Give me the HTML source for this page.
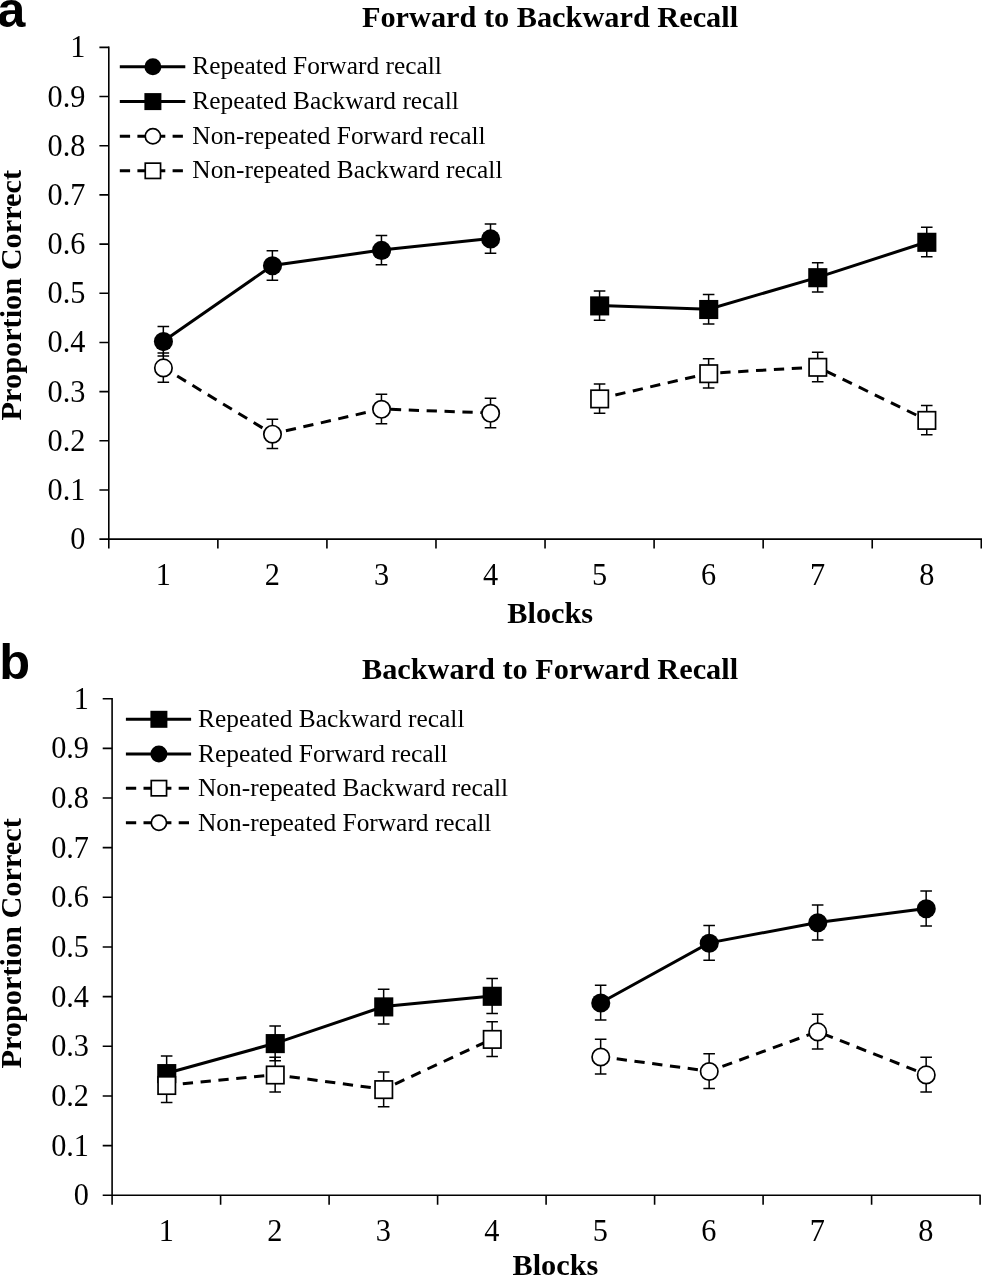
<!DOCTYPE html>
<html><head><meta charset="utf-8"><title>Recall figure</title>
<style>
html,body{margin:0;padding:0;background:#fff}
body{width:982px;height:1275px;overflow:hidden}
svg{display:block;font-family:"Liberation Serif",serif;fill:#000}
.pl{font-family:"Liberation Sans",sans-serif;font-weight:bold;font-size:50.5px}
</style></head><body>
<svg width="982" height="1275" viewBox="0 0 982 1275">
<rect width="982" height="1275" fill="#fff"/>
<text class="pl" x="-2.7" y="27">a</text>
<text class="pl" x="-0.8" y="678.5">b</text>
<g stroke="#000" stroke-width="1.6" fill="none" stroke-linecap="butt">
<path d="M108.8 46.6V548.55"/>
<path d="M99.4 539.15H982"/>
<path d="M99.4 489.97H108.8M99.4 440.8H108.8M99.4 391.62H108.8M99.4 342.45H108.8M99.4 293.27H108.8M99.4 244.1H108.8M99.4 194.92H108.8M99.4 145.75H108.8M99.4 96.57H108.8M99.4 47.4H108.8M217.86 539.15V548.55M326.92 539.15V548.55M435.98 539.15V548.55M545.04 539.15V548.55M654.1 539.15V548.55M763.16 539.15V548.55M872.22 539.15V548.55M981.28 539.15V548.55"/>
</g>
<g font-size="30.3" text-anchor="end">
<text transform="translate(85.4 549.1) scale(1 1.07)">0</text>
<text transform="translate(85.4 499.92) scale(1 1.07)">0.1</text>
<text transform="translate(85.4 450.75) scale(1 1.07)">0.2</text>
<text transform="translate(85.4 401.57) scale(1 1.07)">0.3</text>
<text transform="translate(85.4 352.4) scale(1 1.07)">0.4</text>
<text transform="translate(85.4 303.22) scale(1 1.07)">0.5</text>
<text transform="translate(85.4 254.05) scale(1 1.07)">0.6</text>
<text transform="translate(85.4 204.87) scale(1 1.07)">0.7</text>
<text transform="translate(85.4 155.7) scale(1 1.07)">0.8</text>
<text transform="translate(85.4 106.52) scale(1 1.07)">0.9</text>
<text transform="translate(85.4 57.35) scale(1 1.07)">1</text>
</g>
<g font-size="30.3" text-anchor="middle">
<text transform="translate(163.33 584.8) scale(1 1.07)">1</text>
<text transform="translate(272.39 584.8) scale(1 1.07)">2</text>
<text transform="translate(381.45 584.8) scale(1 1.07)">3</text>
<text transform="translate(490.51 584.8) scale(1 1.07)">4</text>
<text transform="translate(599.57 584.8) scale(1 1.07)">5</text>
<text transform="translate(708.63 584.8) scale(1 1.07)">6</text>
<text transform="translate(817.69 584.8) scale(1 1.07)">7</text>
<text transform="translate(926.75 584.8) scale(1 1.07)">8</text>
</g>
<g font-size="30.3" font-weight="bold" text-anchor="middle">
<text x="550" y="27.2">Forward to Backward Recall</text>
<text x="550.2" y="622.5">Blocks</text>
<text transform="translate(21.2 295.2) rotate(-90)">Proportion Correct</text>
</g>
<path d="M163.33 341.3L272.39 265.5L381.45 250.1L490.51 238.6" fill="none" stroke="#000" stroke-width="3.0"/>
<path d="M163.33 326.6V356M157.53 326.6H169.13M157.53 356H169.13M272.39 250.8V280.2M266.59 250.8H278.19M266.59 280.2H278.19M381.45 235.4V264.8M375.65 235.4H387.25M375.65 264.8H387.25M490.51 223.9V253.3M484.71 223.9H496.31M484.71 253.3H496.31" fill="none" stroke="#000" stroke-width="1.5"/>
<circle cx="163.43" cy="341.6" r="9.55" fill="#000"/>
<circle cx="272.49" cy="265.8" r="9.55" fill="#000"/>
<circle cx="381.55" cy="250.4" r="9.55" fill="#000"/>
<circle cx="490.61" cy="238.9" r="9.55" fill="#000"/>
<path d="M599.57 305.6L708.63 309.2L817.69 277.4L926.75 242" fill="none" stroke="#000" stroke-width="3.0"/>
<path d="M599.57 290.9V320.3M593.77 290.9H605.37M593.77 320.3H605.37M708.63 294.5V323.9M702.83 294.5H714.43M702.83 323.9H714.43M817.69 262.7V292.1M811.89 262.7H823.49M811.89 292.1H823.49M926.75 227.3V256.7M920.95 227.3H932.55M920.95 256.7H932.55" fill="none" stroke="#000" stroke-width="1.5"/>
<rect x="590.12" y="296.35" width="19.1" height="19.1" fill="#000"/>
<rect x="699.18" y="299.95" width="19.1" height="19.1" fill="#000"/>
<rect x="808.24" y="268.15" width="19.1" height="19.1" fill="#000"/>
<rect x="917.3" y="232.75" width="19.1" height="19.1" fill="#000"/>
<path d="M163.33 367.6L272.39 433.9L381.45 409L490.51 413" fill="none" stroke="#000" stroke-width="3.0" stroke-dasharray="10.3 7.6" stroke-dashoffset="1.7"/>
<path d="M163.33 352.9V382.3M157.53 352.9H169.13M157.53 382.3H169.13M272.39 419.2V448.6M266.59 419.2H278.19M266.59 448.6H278.19M381.45 394.3V423.7M375.65 394.3H387.25M375.65 423.7H387.25M490.51 398.3V427.7M484.71 398.3H496.31M484.71 427.7H496.31" fill="none" stroke="#000" stroke-width="1.5"/>
<circle cx="163.43" cy="367.9" r="8.700000000000001" fill="#fff" stroke="#000" stroke-width="1.7"/>
<circle cx="272.49" cy="434.2" r="8.700000000000001" fill="#fff" stroke="#000" stroke-width="1.7"/>
<circle cx="381.55" cy="409.3" r="8.700000000000001" fill="#fff" stroke="#000" stroke-width="1.7"/>
<circle cx="490.61" cy="413.3" r="8.700000000000001" fill="#fff" stroke="#000" stroke-width="1.7"/>
<path d="M599.57 398.6L708.63 373.4L817.69 367L926.75 420.1" fill="none" stroke="#000" stroke-width="3.0" stroke-dasharray="10.3 7.6" stroke-dashoffset="1.7"/>
<path d="M599.57 383.9V413.3M593.77 383.9H605.37M593.77 413.3H605.37M708.63 358.7V388.1M702.83 358.7H714.43M702.83 388.1H714.43M817.69 352.3V381.7M811.89 352.3H823.49M811.89 381.7H823.49M926.75 405.4V434.8M920.95 405.4H932.55M920.95 434.8H932.55" fill="none" stroke="#000" stroke-width="1.5"/>
<rect x="590.97" y="390.2" width="17.4" height="17.4" fill="#fff" stroke="#000" stroke-width="1.7"/>
<rect x="700.03" y="365" width="17.4" height="17.4" fill="#fff" stroke="#000" stroke-width="1.7"/>
<rect x="809.09" y="358.6" width="17.4" height="17.4" fill="#fff" stroke="#000" stroke-width="1.7"/>
<rect x="918.15" y="411.7" width="17.4" height="17.4" fill="#fff" stroke="#000" stroke-width="1.7"/>
<path d="M119.8 66.7H185.3" stroke="#000" stroke-width="3.0"/>
<circle cx="152.9" cy="66.7" r="8.5" fill="#000"/>
<text x="192.3" y="74.3" font-size="25.4">Repeated Forward recall</text>
<path d="M119.8 101.6H185.3" stroke="#000" stroke-width="3.0"/>
<rect x="144.4" y="93.1" width="17.0" height="17.0" fill="#000"/>
<text x="192.3" y="108.9" font-size="25.4">Repeated Backward recall</text>
<path d="M119.8 136.3H185.3" stroke="#000" stroke-width="3.0" stroke-dasharray="10.3 7.3"/>
<circle cx="152.9" cy="136.3" r="7.65" fill="#fff" stroke="#000" stroke-width="1.7"/>
<text x="192.3" y="143.8" font-size="25.4">Non-repeated Forward recall</text>
<path d="M119.8 170.8H185.3" stroke="#000" stroke-width="3.0" stroke-dasharray="10.3 7.3"/>
<rect x="145.25" y="163.15" width="15.3" height="15.3" fill="#fff" stroke="#000" stroke-width="1.7"/>
<text x="192.3" y="178.4" font-size="25.4">Non-repeated Backward recall</text>
<g stroke="#000" stroke-width="1.6" fill="none" stroke-linecap="butt">
<path d="M112.1 697.9V1204.65"/>
<path d="M102.7 1195.25H980.7"/>
<path d="M102.7 1145.6H112.1M102.7 1095.94H112.1M102.7 1046.29H112.1M102.7 996.63H112.1M102.7 946.98H112.1M102.7 897.32H112.1M102.7 847.67H112.1M102.7 798.01H112.1M102.7 748.36H112.1M102.7 698.7H112.1M220.6 1195.25V1204.65M329.1 1195.25V1204.65M437.6 1195.25V1204.65M546.1 1195.25V1204.65M654.6 1195.25V1204.65M763.1 1195.25V1204.65M871.6 1195.25V1204.65M980.1 1195.25V1204.65"/>
</g>
<g font-size="30.3" text-anchor="end">
<text transform="translate(89 1205.2) scale(1 1.07)">0</text>
<text transform="translate(89 1155.55) scale(1 1.07)">0.1</text>
<text transform="translate(89 1105.89) scale(1 1.07)">0.2</text>
<text transform="translate(89 1056.24) scale(1 1.07)">0.3</text>
<text transform="translate(89 1006.58) scale(1 1.07)">0.4</text>
<text transform="translate(89 956.93) scale(1 1.07)">0.5</text>
<text transform="translate(89 907.27) scale(1 1.07)">0.6</text>
<text transform="translate(89 857.62) scale(1 1.07)">0.7</text>
<text transform="translate(89 807.96) scale(1 1.07)">0.8</text>
<text transform="translate(89 758.31) scale(1 1.07)">0.9</text>
<text transform="translate(89 708.65) scale(1 1.07)">1</text>
</g>
<g font-size="30.3" text-anchor="middle">
<text transform="translate(166.35 1240.6) scale(1 1.07)">1</text>
<text transform="translate(274.85 1240.6) scale(1 1.07)">2</text>
<text transform="translate(383.35 1240.6) scale(1 1.07)">3</text>
<text transform="translate(491.85 1240.6) scale(1 1.07)">4</text>
<text transform="translate(600.35 1240.6) scale(1 1.07)">5</text>
<text transform="translate(708.85 1240.6) scale(1 1.07)">6</text>
<text transform="translate(817.35 1240.6) scale(1 1.07)">7</text>
<text transform="translate(925.85 1240.6) scale(1 1.07)">8</text>
</g>
<g font-size="30.3" font-weight="bold" text-anchor="middle">
<text x="550" y="678.5">Backward to Forward Recall</text>
<text x="555.4" y="1274.5">Blocks</text>
<text transform="translate(21.2 943.4) rotate(-90)">Proportion Correct</text>
</g>
<path d="M166.65 1073.3L275.15 1043.3L383.65 1006.6L492.15 996" fill="none" stroke="#000" stroke-width="3.0"/>
<path d="M166.65 1055.9V1090.7M160.85 1055.9H172.45M160.85 1090.7H172.45M275.15 1025.9V1060.7M269.35 1025.9H280.95M269.35 1060.7H280.95M383.65 989.2V1024M377.85 989.2H389.45M377.85 1024H389.45M492.15 978.6V1013.4M486.35 978.6H497.95M486.35 1013.4H497.95" fill="none" stroke="#000" stroke-width="1.5"/>
<rect x="157.2" y="1064.05" width="19.1" height="19.1" fill="#000"/>
<rect x="265.7" y="1034.05" width="19.1" height="19.1" fill="#000"/>
<rect x="374.2" y="997.35" width="19.1" height="19.1" fill="#000"/>
<rect x="482.7" y="986.75" width="19.1" height="19.1" fill="#000"/>
<path d="M600.65 1002.7L709.15 942.9L817.65 922.5L926.15 908.5" fill="none" stroke="#000" stroke-width="3.0"/>
<path d="M600.65 985.3V1020.1M594.85 985.3H606.45M594.85 1020.1H606.45M709.15 925.5V960.3M703.35 925.5H714.95M703.35 960.3H714.95M817.65 905.1V939.9M811.85 905.1H823.45M811.85 939.9H823.45M926.15 891.1V925.9M920.35 891.1H931.95M920.35 925.9H931.95" fill="none" stroke="#000" stroke-width="1.5"/>
<circle cx="600.75" cy="1003" r="9.55" fill="#000"/>
<circle cx="709.25" cy="943.2" r="9.55" fill="#000"/>
<circle cx="817.75" cy="922.8" r="9.55" fill="#000"/>
<circle cx="926.25" cy="908.8" r="9.55" fill="#000"/>
<path d="M166.65 1085.2L275.15 1074.7L383.65 1089.3L492.15 1039.1" fill="none" stroke="#000" stroke-width="3.0" stroke-dasharray="10.3 7.6" stroke-dashoffset="1.7"/>
<path d="M166.65 1067.8V1102.6M160.85 1067.8H172.45M160.85 1102.6H172.45M275.15 1057.3V1092.1M269.35 1057.3H280.95M269.35 1092.1H280.95M383.65 1071.9V1106.7M377.85 1071.9H389.45M377.85 1106.7H389.45M492.15 1021.7V1056.5M486.35 1021.7H497.95M486.35 1056.5H497.95" fill="none" stroke="#000" stroke-width="1.5"/>
<rect x="158.05" y="1076.8" width="17.4" height="17.4" fill="#fff" stroke="#000" stroke-width="1.7"/>
<rect x="266.55" y="1066.3" width="17.4" height="17.4" fill="#fff" stroke="#000" stroke-width="1.7"/>
<rect x="375.05" y="1080.9" width="17.4" height="17.4" fill="#fff" stroke="#000" stroke-width="1.7"/>
<rect x="483.55" y="1030.7" width="17.4" height="17.4" fill="#fff" stroke="#000" stroke-width="1.7"/>
<path d="M600.65 1056.7L709.15 1071.2L817.65 1031.6L926.15 1074.6" fill="none" stroke="#000" stroke-width="3.0" stroke-dasharray="10.3 7.6" stroke-dashoffset="1.7"/>
<path d="M600.65 1039.3V1074.1M594.85 1039.3H606.45M594.85 1074.1H606.45M709.15 1053.8V1088.6M703.35 1053.8H714.95M703.35 1088.6H714.95M817.65 1014.2V1049M811.85 1014.2H823.45M811.85 1049H823.45M926.15 1057.2V1092M920.35 1057.2H931.95M920.35 1092H931.95" fill="none" stroke="#000" stroke-width="1.5"/>
<circle cx="600.75" cy="1057" r="8.700000000000001" fill="#fff" stroke="#000" stroke-width="1.7"/>
<circle cx="709.25" cy="1071.5" r="8.700000000000001" fill="#fff" stroke="#000" stroke-width="1.7"/>
<circle cx="817.75" cy="1031.9" r="8.700000000000001" fill="#fff" stroke="#000" stroke-width="1.7"/>
<circle cx="926.25" cy="1074.9" r="8.700000000000001" fill="#fff" stroke="#000" stroke-width="1.7"/>
<path d="M125.9 719.3H191.1" stroke="#000" stroke-width="3.0"/>
<rect x="150.4" y="710.8" width="17.0" height="17.0" fill="#000"/>
<text x="198" y="726.9" font-size="25.4">Repeated Backward recall</text>
<path d="M125.9 754H191.1" stroke="#000" stroke-width="3.0"/>
<circle cx="158.9" cy="754" r="8.5" fill="#000"/>
<text x="198" y="761.5" font-size="25.4">Repeated Forward recall</text>
<path d="M125.9 788.2H191.1" stroke="#000" stroke-width="3.0" stroke-dasharray="10.3 7.3"/>
<rect x="151.25" y="780.55" width="15.3" height="15.3" fill="#fff" stroke="#000" stroke-width="1.7"/>
<text x="198" y="796" font-size="25.4">Non-repeated Backward recall</text>
<path d="M125.9 822.7H191.1" stroke="#000" stroke-width="3.0" stroke-dasharray="10.3 7.3"/>
<circle cx="158.9" cy="822.7" r="7.65" fill="#fff" stroke="#000" stroke-width="1.7"/>
<text x="198" y="830.5" font-size="25.4">Non-repeated Forward recall</text>
</svg>
</body></html>
